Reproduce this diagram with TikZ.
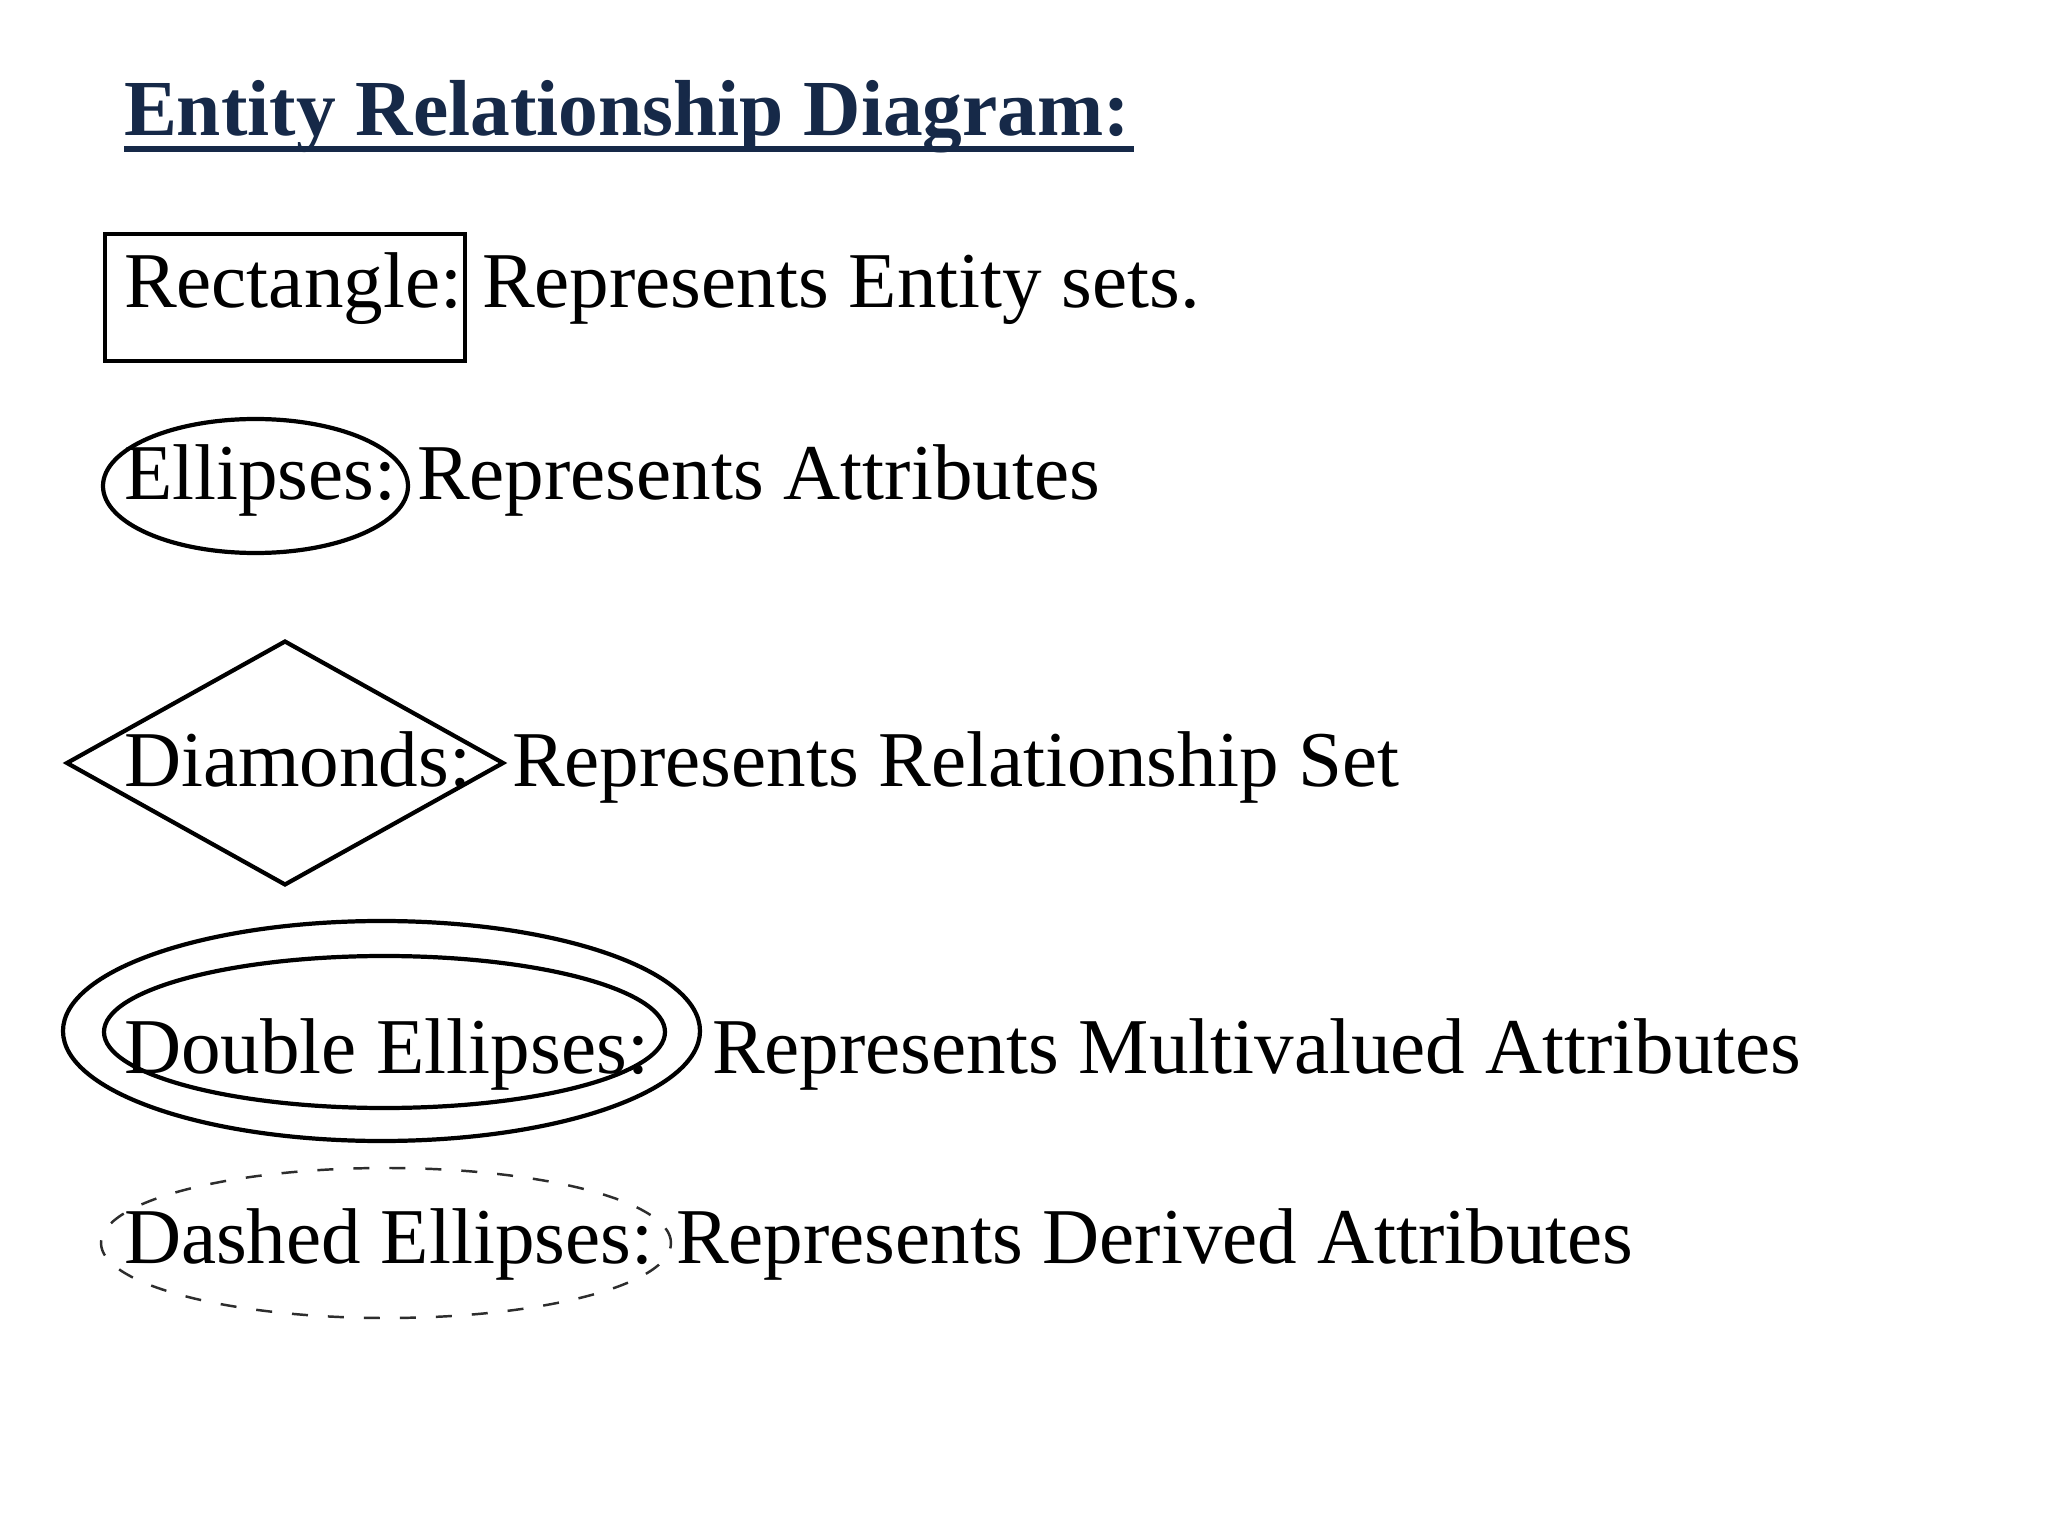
\documentclass[tikz,border=0pt]{standalone}
\usepackage{fontspec}
\setmainfont{Liberation Serif}
\usetikzlibrary{shapes.geometric}
\definecolor{titlenavy}{RGB}{22,41,72}
\definecolor{dashgrey}{RGB}{45,45,45}

\begin{document}
\begin{tikzpicture}[x=1cm, y=-1cm,
    every node/.style={inner sep=0pt, outer sep=0pt},
    shapeline/.style={draw, line width=1.2pt},
    dashedattr/.style={draw=dashgrey, line width=0.7pt, dash pattern=on 0.16cm off 0.2cm},
    entry/.style={anchor=base west, font=\fontsize{22.5}{27}\selectfont}]
  \useasboundingbox[fill=white] (0,0) rectangle (20.48,15.36);
  \node[entry, text=titlenavy, font=\fontsize{22.6}{27}\selectfont\bfseries] (title) at (1.24,1.36) {Entity Relationship Diagram:};
  \draw[titlenavy, line width=0.06cm] ([yshift=-0.135cm]title.base west) -- ([yshift=-0.135cm,xshift=0.04cm]title.base east);
  \node[shapeline, rectangle, minimum width=3.6cm, minimum height=1.27cm] (rect) at (2.85,2.975) {};
  \node[shapeline, ellipse, minimum width=3.05cm, minimum height=1.34cm] (attr) at (2.555,4.86) {};
  \node[shapeline, diamond, minimum width=4.36cm, minimum height=2.43cm] (rel) at (2.85,7.63) {};
  \node[shapeline, ellipse, minimum width=6.37cm, minimum height=2.2cm] (multi-outer) at (3.815,10.31) {};
  \node[shapeline, ellipse, minimum width=5.61cm, minimum height=1.52cm] (multi-inner) at (3.845,10.32) {};
  \node[dashedattr, ellipse, minimum width=5.70cm, minimum height=1.50cm] (derived) at (3.86,12.43) {};
  \foreach \y/\lab/\x/\desc [count=\n] in {
      3.08/Rectangle:/4.82/Represents Entity sets.,
      5.00/Ellipses:/4.17/Represents Attributes,
      7.86/Diamonds:/5.12/Represents Relationship Set,
      10.73/Double Ellipses:/7.12/Represents Multivalued Attributes,
      12.63/Dashed Ellipses:/6.76/Represents Derived Attributes
    } {
      \node[entry] (lab-\n) at (1.24,\y) {\lab};
      \node[entry] (desc-\n) at (\x,\y) {\desc};
    }
\end{tikzpicture}
\end{document}
